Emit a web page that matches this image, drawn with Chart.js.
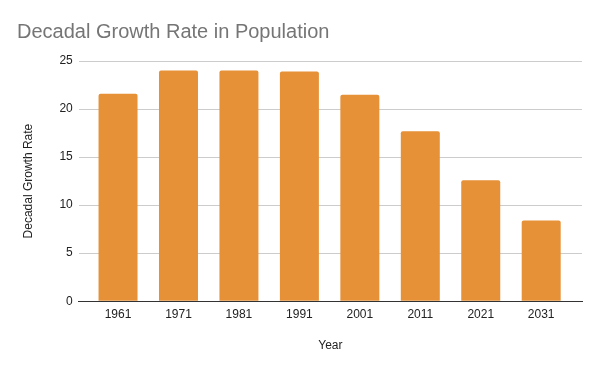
<!DOCTYPE html>
<html>
<head>
<meta charset="utf-8">
<script src="https://cdn.jsdelivr.net/npm/chart.js@4"></script>
<style>
  html, body { margin: 0; padding: 0; background: #fff; }
  #wrap { width: 600px; height: 371px; }
</style>
</head>
<body>
<div id="wrap"><canvas id="growthChart"></canvas></div>
<script>
const years = ['1961', '1971', '1981', '1991', '2001', '2011', '2021', '2031'];
const growthRates = [21.6, 24.0, 24.0, 23.9, 21.5, 17.7, 12.6, 8.4];
const yTicks = [0, 5, 10, 15, 20, 25];

const font = 'Liberation Sans, Arial, sans-serif';

// bars sit on a numeric x scale so the outer gaps can be wider than the inner ones
const points = growthRates.map((v, i) => ({ x: i, y: v }));

new Chart(document.getElementById('growthChart'), {
  type: 'bar',
  data: {
    datasets: [{
      label: 'Decadal Growth Rate',
      data: points,
      backgroundColor: '#e69138',
      borderRadius: { topLeft: 2, topRight: 2 },
      borderSkipped: 'bottom',
      barPercentage: 0.645,
      categoryPercentage: 1.0
    }]
  },
  options: {
    responsive: true,
    maintainAspectRatio: false,
    animation: false,
    layout: { padding: { left: 17, right: 18, top: 0, bottom: 14 } },
    plugins: {
      legend: { display: false },
      tooltip: { enabled: false },
      title: {
        display: true,
        text: 'Decadal Growth Rate in Population',
        align: 'start',
        color: '#757575',
        font: { family: font, size: 20, weight: 'normal' },
        padding: { top: 20, bottom: 17 }
      }
    },
    scales: {
      x: {
        type: 'linear',
        offset: false,
        min: -0.65,
        max: 7.675,
        afterBuildTicks: (axis) => { axis.ticks = years.map((_, i) => ({ value: i })); },
        grid: { display: false, drawTicks: false, offset: false },
        border: { color: '#333', width: 1 },
        ticks: {
          color: '#222',
          font: { family: font, size: 12 },
          padding: 6,
          autoSkip: false,
          maxRotation: 0,
          callback: (v) => years[v] ?? ''
        },
        title: {
          display: true,
          text: 'Year',
          color: '#222',
          font: { family: font, size: 12 },
          padding: { top: 11 }
        }
      },
      y: {
        min: 0,
        max: 25,
        afterBuildTicks: (axis) => { axis.ticks = yTicks.map(v => ({ value: v })); },
        grid: { color: '#cccccc', drawTicks: false },
        border: { display: false },
        ticks: { color: '#222', font: { family: font, size: 12 }, padding: 6 },
        title: {
          display: true,
          text: 'Decadal Growth Rate',
          color: '#222',
          font: { family: font, size: 12 },
          padding: { bottom: 18 }
        }
      }
    }
  }
});
</script>
</body>
</html>
